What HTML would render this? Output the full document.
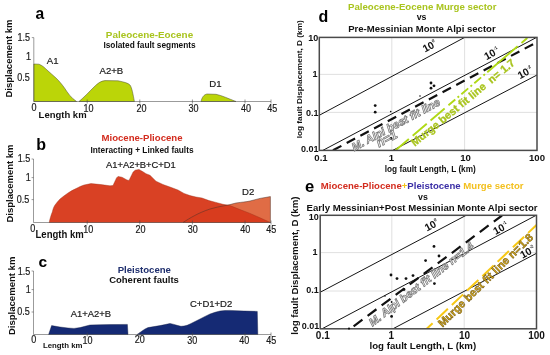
<!DOCTYPE html>
<html><head><meta charset="utf-8">
<style>
html,body{margin:0;padding:0;background:#fff;}
svg{display:block;font-family:"Liberation Sans",sans-serif;}
.ax{stroke:#484848;stroke-width:0.55;fill:none}
.tk{fill:#1a1a1a;stroke:#1a1a1a;stroke-width:0.2}
.lb{font-weight:bold;fill:#111}
.pl{font-weight:bold;fill:#000}
.sh{stroke:#4a4a30;stroke-width:0.5}
.bt{font-weight:bold;fill:#111}
.grid{stroke:#d8d8d8;stroke-width:0.8;fill:none}
.box{stroke:#4a4a4a;stroke-width:1.5;fill:none}
.ln{stroke:#151515;stroke-width:1.0;fill:none}
.dash{stroke:#111;stroke-width:2.2;fill:none;stroke-dasharray:9.5 6}
.pt{fill:#111}
.ex{fill:#111;font-weight:bold}
.hol{font-weight:bold;font-style:italic;fill:#f4f4f4;stroke:#767676;stroke-width:0.75}
</style></head><body>
<svg width="550" height="355" viewBox="0 0 550 355">
<rect width="550" height="355" fill="#fff"/>

<g id="pa">
<text x="35.6" y="19" class="pl" font-size="15.6">a</text>
<text transform="translate(11.9,97.6) rotate(-90)" class="lb" font-size="9.8" textLength="78" lengthAdjust="spacingAndGlyphs">Displacement km</text>
<path class="sh" fill="#bbd508" d="M33.8,101.5 L33.8,64 L39,64.2 C42,65.3 44.5,67.5 47,70 C50,72.8 53,75.2 56,78 C59,80.8 62,84.5 64.5,88 C67.5,92.5 71,98 76.6,101.5 Z"/>
<path class="sh" fill="#bbd508" d="M79,101.5 C84,97.3 90,91 94,87 C98,83 101,81 105,80.6 L118,80.8 C124,82 128,83 130,85 C132,88 133,94 134.4,101.5 Z"/>
<path class="sh" fill="#bbd508" d="M201,101.5 C202,97 204,94.5 207,94 L216,94.3 C222,95.5 228,98.5 236,101.5 Z"/>
<path class="ax" d="M33.8,37.6 V101.5 H271 M31.799999999999997,37.6 H33.8 M87.2,99.5 V103.5 M139.8,99.5 V103.5 M192.4,99.5 V103.5 M245,99.5 V103.5 M271,99.5 V103.5"/>
<text x="17.6" y="41.2" class="tk" font-size="10" textLength="12.51" lengthAdjust="spacingAndGlyphs">1.5</text>
<text x="26.1" y="60.3" class="tk" font-size="10" textLength="5.01" lengthAdjust="spacingAndGlyphs">1</text>
<text x="17.3" y="81.2" class="tk" font-size="10" textLength="12.51" lengthAdjust="spacingAndGlyphs">0.5</text>
<text x="31.6" y="111.4" class="tk" font-size="10" textLength="5.01" lengthAdjust="spacingAndGlyphs">0</text>
<text x="83.6" y="112" class="tk" font-size="10" textLength="10.01" lengthAdjust="spacingAndGlyphs">10</text>
<text x="136.4" y="112" class="tk" font-size="10" textLength="10.01" lengthAdjust="spacingAndGlyphs">20</text>
<text x="188.6" y="112" class="tk" font-size="10" textLength="10.01" lengthAdjust="spacingAndGlyphs">30</text>
<text x="241" y="112" class="tk" font-size="10" textLength="10.01" lengthAdjust="spacingAndGlyphs">40</text>
<text x="267.2" y="112" class="tk" font-size="10" textLength="10.01" lengthAdjust="spacingAndGlyphs">45</text>
<text x="38.6" y="117.6" class="lb" font-size="9.7" textLength="48" lengthAdjust="spacingAndGlyphs">Length km</text>
<text x="46.8" y="64" class="tk" font-size="9.6" textLength="11.74" lengthAdjust="spacingAndGlyphs">A1</text>
<text x="99.5" y="73.7" class="tk" font-size="9.6" textLength="23.75" lengthAdjust="spacingAndGlyphs">A2+B</text>
<text x="209.3" y="87" class="tk" font-size="9.6" textLength="12.27" lengthAdjust="spacingAndGlyphs">D1</text>
<text x="149.5" y="38" font-size="9.9" text-anchor="middle" fill="#a9c41e" font-weight="bold">Paleocene-Eocene</text>
<text x="149.5" y="48" class="bt" font-size="8.3" text-anchor="middle">Isolated fault segments</text>
</g>
<g id="pb">
<text x="36.3" y="150.2" class="pl" font-size="16">b</text>
<text transform="translate(12.9,222.5) rotate(-90)" class="lb" font-size="9.8" textLength="78" lengthAdjust="spacingAndGlyphs">Displacement km</text>
<path fill="#e06c45" stroke="none" d="M183,222.5 C190,218 198,213 210,209 C220,206 228,205.5 236,203 C242,202 246,202 250,201 L260,198.4 L270.4,196.6 L270.4,222.5 Z"/>
<path stroke="#9a3018" stroke-width="0.4" fill="#d83b1d" fill-opacity="0.97" d="M49.2,222.5 C50,218.5 51,215 52.3,212 C53,208.5 54,206.5 55,205 C56.5,203 58,201 60,199 C62.5,197 65,195 68,193 C70.5,191.3 73,190 76,188.6 C79,187 81,186 84,185 L91,183.6 L101,184.6 L110,185.8 L113,185.5 L116.5,177.9 L118,176.4 L122,177.2 L127,180 L129,180.4 L133,172.2 L135,170.2 L139,169.4 L143,171.8 L146,173.7 L150,175.3 L156,181.2 L163,184.5 L170,187 L178,190 L184,193.4 L190,195.6 L196,197 L202,198 L209,200.6 L216,202.4 L223,204.3 L230,205.6 L240,209.6 L250,213.4 L260,217.8 L270.4,222.5 Z"/>
<path stroke="#4a3028" stroke-width="0.5" fill="none" d="M183,222.5 C190,218 198,213 210,209 C220,206 228,205.5 236,203 C242,202 246,202 250,201 L260,198.4 L270.4,196.6 L270.4,222.5"/>
<path class="ax" d="M33.5,159 V222.5 H271 M31.6,159 H33.5 M31.6,177.6 H33.5 M31.6,199.6 H33.5 M87.2,220.5 V224.5 M139.8,220.5 V224.5 M192.4,220.5 V224.5 M245,220.5 V224.5 M271,220.5 V224.5"/>
<text x="17.8" y="162.4" class="tk" font-size="10" textLength="12.51" lengthAdjust="spacingAndGlyphs">1.5</text>
<text x="25.8" y="181.2" class="tk" font-size="10" textLength="5.01" lengthAdjust="spacingAndGlyphs">1</text>
<text x="16.8" y="203" class="tk" font-size="10" textLength="12.51" lengthAdjust="spacingAndGlyphs">0.5</text>
<text x="30.3" y="232.3" class="tk" font-size="10" textLength="5.01" lengthAdjust="spacingAndGlyphs">0</text>
<text x="83.3" y="232.6" class="tk" font-size="10" textLength="10.01" lengthAdjust="spacingAndGlyphs">10</text>
<text x="135.4" y="232.6" class="tk" font-size="10" textLength="10.01" lengthAdjust="spacingAndGlyphs">20</text>
<text x="187.8" y="232.6" class="tk" font-size="10" textLength="10.01" lengthAdjust="spacingAndGlyphs">30</text>
<text x="240.3" y="232.6" class="tk" font-size="10" textLength="10.01" lengthAdjust="spacingAndGlyphs">40</text>
<text x="266.3" y="232.6" class="tk" font-size="10" textLength="10.01" lengthAdjust="spacingAndGlyphs">45</text>
<text x="35.5" y="238.4" class="lb" font-size="10.2" textLength="48.3" lengthAdjust="spacingAndGlyphs">Length km</text>
<text x="142" y="141" font-size="9.6" text-anchor="middle" fill="#d32c1e" font-weight="bold">Miocene-Pliocene</text>
<text x="142" y="153.4" class="bt" font-size="8.3" text-anchor="middle">Interacting + Linked faults</text>
<text x="106" y="168.2" class="tk" font-size="9.4" textLength="69.8" lengthAdjust="spacingAndGlyphs">A1+A2+B+C+D1</text>
<text x="242" y="195.3" class="tk" font-size="9.6" textLength="12.27" lengthAdjust="spacingAndGlyphs">D2</text>
</g>
<g id="pc">
<text x="38.5" y="267.2" class="pl" font-size="15.5">c</text>
<text transform="translate(15,335.1) rotate(-90)" class="lb" font-size="9.8" textLength="78.5" lengthAdjust="spacingAndGlyphs">Displacement km</text>
<path fill="#152a74" stroke="#101a40" stroke-width="0.4" d="M48.6,334.5 L51.6,325.6 L60,327 L68,328 L74,328.4 L80,327.6 L86,326 L90,325 L100,324.7 L110,324.6 L127.4,324.4 L128,334.5 Z"/>
<path fill="#152a74" stroke="#101a40" stroke-width="0.4" d="M137,334.5 L139,333.2 L142,331 L145,329 L148,327.6 L154,326.6 L160,325.6 L165,324.6 L170,323.4 L174,324.4 L178,325.6 L181,326.3 L184,326 L187,325.3 L190,324 L195,321.5 L200,319 L205,316.4 L210,314 L215,312.3 L220,311 L225,310.5 L230,310.4 L244,311 L257.3,311.4 L257.8,334.5 Z"/>
<path class="ax" d="M33.5,271 V334.5 H271 M31.6,271 H33.5 M31.6,289.6 H33.5 M31.6,312 H33.5 M87.2,332.5 V336.5 M139.8,332.5 V336.5 M192.4,332.5 V336.5 M245,332.5 V336.5 M271,332.5 V336.5"/>
<text x="17.8" y="274.6" class="tk" font-size="10" textLength="12.51" lengthAdjust="spacingAndGlyphs">1.5</text>
<text x="25.8" y="293.2" class="tk" font-size="10" textLength="5.01" lengthAdjust="spacingAndGlyphs">1</text>
<text x="17.3" y="315.2" class="tk" font-size="10" textLength="12.51" lengthAdjust="spacingAndGlyphs">0.5</text>
<text x="31.3" y="343" class="tk" font-size="10" textLength="5.01" lengthAdjust="spacingAndGlyphs">0</text>
<text x="82.4" y="343.6" class="tk" font-size="10" textLength="10.01" lengthAdjust="spacingAndGlyphs">10</text>
<text x="134.8" y="343.2" class="tk" font-size="10" textLength="10.01" lengthAdjust="spacingAndGlyphs">20</text>
<text x="187.3" y="343.6" class="tk" font-size="10" textLength="10.01" lengthAdjust="spacingAndGlyphs">30</text>
<text x="239.2" y="343.6" class="tk" font-size="10" textLength="10.01" lengthAdjust="spacingAndGlyphs">40</text>
<text x="266.3" y="343.6" class="tk" font-size="10" textLength="10.01" lengthAdjust="spacingAndGlyphs">45</text>
<text x="43" y="347.9" class="lb" font-size="7.8">Length km</text>
<text x="144.3" y="273" font-size="9.6" text-anchor="middle" fill="#1f2f6e" font-weight="bold">Pleistocene</text>
<text x="144" y="283.2" class="bt" font-size="9.5" text-anchor="middle">Coherent faults</text>
<text x="70.8" y="317.2" class="tk" font-size="9.4" textLength="40.24" lengthAdjust="spacingAndGlyphs">A1+A2+B</text>
<text x="190" y="307.4" class="tk" font-size="9.5" textLength="42.24" lengthAdjust="spacingAndGlyphs">C+D1+D2</text>
</g>
<g id="pd">
<text x="318.5" y="21.6" class="pl" font-size="16">d</text>
<text x="348" y="9.7" font-size="9.9" textLength="148.5" lengthAdjust="spacingAndGlyphs" fill="#a9c41e" font-weight="bold">Paleocene-Eocene Murge sector</text>
<text x="421.6" y="20" class="bt" font-size="8.8" text-anchor="middle">vs</text>
<text x="348.2" y="31.5" class="bt" font-size="9.9" textLength="147.5" lengthAdjust="spacingAndGlyphs">Pre-Messinian Monte Alpi sector</text>
<text transform="translate(302.2,138.3) rotate(-90)" class="bt" font-size="7.9" textLength="118" lengthAdjust="spacingAndGlyphs">log fault Displacement, D (km)</text>
<path class="grid" d="M391.8,37.5 V150.5 M464.6,37.5 V150.5 M320,74.4 H537 M320,112.4 H537"/>
<svg x="319.3" y="37.4" width="217.7" height="113" viewBox="319.3 37.4 217.7 113" overflow="hidden">
<path class="ln" d="M319.8,115 L464.7,37.4 M322.8,150.4 L536.6,37.4 M392.5,150.5 L537,75"/>
<path class="dash" d="M333,150.3 L537,42.1"/>
<path stroke="#b0d916" stroke-width="1.9" fill="none" stroke-dasharray="18.5 5 18.5 5 18.5 5 9 3 2 3 9 3 2 3 9 3 2 3 40 5" d="M394.8,151 L527.3,38"/>
</svg>
<rect class="box" x="319.3" y="37.4" width="217.7" height="113"/>
<g class="pt">
<circle cx="375.2" cy="105.6" r="1.4"/>
<circle cx="375.2" cy="112.2" r="1.4"/>
<circle cx="390.7" cy="111.6" r="0.8"/>
<circle cx="404" cy="123" r="1.4"/>
<circle cx="391" cy="138.4" r="1.4"/>
<circle cx="420" cy="96" r="0.8"/>
<circle cx="431" cy="83" r="1.4"/>
<circle cx="434" cy="85.8" r="1.4"/>
<circle cx="431" cy="88.2" r="1.4"/>
</g>
<text transform="translate(354.3,151.2) rotate(-28.3)" class="hol" font-size="11.2">M. Alpi best fit line</text>
<text transform="translate(379,147.6) rotate(-28.3)" class="hol" font-size="12.5">n=1</text>
<text transform="translate(414.8,146.8) rotate(-39.3)" font-size="10.9" fill="#a9c41e" font-weight="bold" stroke="#a9c41e" stroke-width="0.3">Murge best fit line&#160;&#160;n= 1.7</text>
<text class="ex" font-size="10.3" transform="translate(486.5,60.2) rotate(-28)">10<tspan dy="-5" font-size="4.5">-1</tspan></text>
<text class="ex" font-size="10.3" transform="translate(520,79.2) rotate(-28)">10<tspan dy="-5" font-size="4.5">-2</tspan></text>
<text class="ex" font-size="10.3" transform="translate(425,52.6) rotate(-28)">10<tspan dy="-5" font-size="4.5">0</tspan></text>
<text x="318.2" y="40.6" class="bt" font-size="9.7" textLength="10.03" lengthAdjust="spacingAndGlyphs" text-anchor="end">10</text>
<text x="317.4" y="76.8" class="bt" font-size="9.7" textLength="5.02" lengthAdjust="spacingAndGlyphs" text-anchor="end">1</text>
<text x="318.5" y="115.8" class="bt" font-size="9.7" textLength="12.54" lengthAdjust="spacingAndGlyphs" text-anchor="end">0.1</text>
<text x="318.6" y="152.4" class="bt" font-size="9.7" textLength="17.56" lengthAdjust="spacingAndGlyphs" text-anchor="end">0.01</text>
<text x="321" y="160.6" class="bt" font-size="9.6" text-anchor="middle">0.1</text>
<text x="391.3" y="160.6" class="bt" font-size="9.6" text-anchor="middle">1</text>
<text x="465.6" y="160.6" class="bt" font-size="9.6" text-anchor="middle">10</text>
<text x="537" y="160.6" class="bt" font-size="9.6" text-anchor="middle">100</text>
<text x="384.8" y="171.8" class="bt" font-size="8.3" textLength="91" lengthAdjust="spacingAndGlyphs">log fault Length, L (km)</text>
</g>
<g id="pe">
<text x="305" y="192.2" class="pl" font-size="16.6">e</text>
<text x="320.8" y="188.8" font-size="9.6" font-weight="bold" textLength="202.7" lengthAdjust="spacingAndGlyphs"><tspan fill="#d32c1e">Miocene-Pliocene</tspan><tspan fill="#f4c418">+</tspan><tspan fill="#3a2ea6">Pleistocene</tspan><tspan fill="#f3c01e"> Murge sector</tspan></text>
<text x="423" y="200.1" class="bt" font-size="8.8" text-anchor="middle">vs</text>
<text x="306.5" y="211" class="bt" font-size="9.75" textLength="231" lengthAdjust="spacingAndGlyphs">Early Messinian+Post Messinian Monte Alpi sector</text>
<text transform="translate(297.9,334.8) rotate(-90)" class="bt" font-size="9.8" textLength="138.3" lengthAdjust="spacingAndGlyphs">log fault Displacement, D (km)</text>
<path class="grid" d="M391.8,215.5 V329 M464.2,215.5 V329 M320.5,252.6 H536.5 M320.5,291 H536.5"/>
<svg x="320.2" y="215.3" width="216.3" height="113.5" viewBox="320.2 215.3 216.3 113.5" overflow="hidden">
<path class="ln" d="M320.3,292.2 L466,215.4 M322,328.8 L536,215.4 M392.5,329 L536.5,253.3"/>
<path class="dash" d="M350,329 L502,215.5" style="stroke-width:2.2;stroke-dasharray:11 6.5;stroke-dashoffset:13"/>
<path stroke="#f7c815" stroke-width="2" fill="none" stroke-dasharray="15.5 5.5" stroke-dashoffset="7.1" d="M426.5,329 L536.5,225"/>
</svg>
<rect class="box" x="320.2" y="215.3" width="216.3" height="113.5"/>
<g class="pt">
<circle cx="434" cy="246.4" r="1.4"/>
<circle cx="439" cy="256" r="1.4"/>
<circle cx="425.6" cy="260.6" r="1.4"/>
<circle cx="391" cy="275" r="1.4"/>
<circle cx="397" cy="278.6" r="1.4"/>
<circle cx="406" cy="278.6" r="1.4"/>
<circle cx="413" cy="275.6" r="1.4"/>
<circle cx="404" cy="289.5" r="1.4"/>
<circle cx="434.4" cy="283.6" r="1.4"/>
<circle cx="385" cy="296" r="0.8"/>
<circle cx="391.6" cy="302" r="0.9"/>
<circle cx="391.6" cy="316.4" r="1.4"/>
<circle cx="349" cy="328.6" r="1.1"/>
</g>
<text transform="translate(372.5,326.8) rotate(-37.8)" class="hol" font-size="11.1">M. Alpi best fit line n=1.4</text>
<text transform="translate(442.5,327.8) rotate(-44.5)" font-size="11.1" fill="#d0a618" font-weight="bold" stroke="#6a5010" stroke-width="0.45">Murge best fit line n=<tspan dx="1.3">1.8</tspan></text>
<text class="ex" font-size="10.3" transform="translate(495.5,235) rotate(-28)">10<tspan dy="-5" font-size="4.5">-1</tspan></text>
<text class="ex" font-size="10.3" transform="translate(522.5,258.8) rotate(-28)">10<tspan dy="-5" font-size="4.5">-2</tspan></text>
<text class="ex" font-size="10.3" transform="translate(427,231.6) rotate(-28)">10<tspan dy="-5" font-size="4.5">0</tspan></text>
<text x="318.8" y="220" class="bt" font-size="9.7" textLength="10.03" lengthAdjust="spacingAndGlyphs" text-anchor="end">10</text>
<text x="317.6" y="254.6" class="bt" font-size="9.7" textLength="5.02" lengthAdjust="spacingAndGlyphs" text-anchor="end">1</text>
<text x="318.8" y="293" class="bt" font-size="9.7" textLength="12.54" lengthAdjust="spacingAndGlyphs" text-anchor="end">0.1</text>
<text x="319.2" y="329.1" class="bt" font-size="9.7" textLength="17.56" lengthAdjust="spacingAndGlyphs" text-anchor="end">0.01</text>
<text x="322.8" y="339.4" class="bt" font-size="10" text-anchor="middle">0.1</text>
<text x="391.3" y="339.4" class="bt" font-size="10" text-anchor="middle">1</text>
<text x="464.6" y="339.4" class="bt" font-size="10" text-anchor="middle">10</text>
<text x="536.5" y="339.4" class="bt" font-size="10" text-anchor="middle">100</text>
<text x="369.5" y="349.4" class="bt" font-size="9.8" textLength="106.6" lengthAdjust="spacingAndGlyphs">log fault Length, L (km)</text>
</g>
</svg>
</body></html>
